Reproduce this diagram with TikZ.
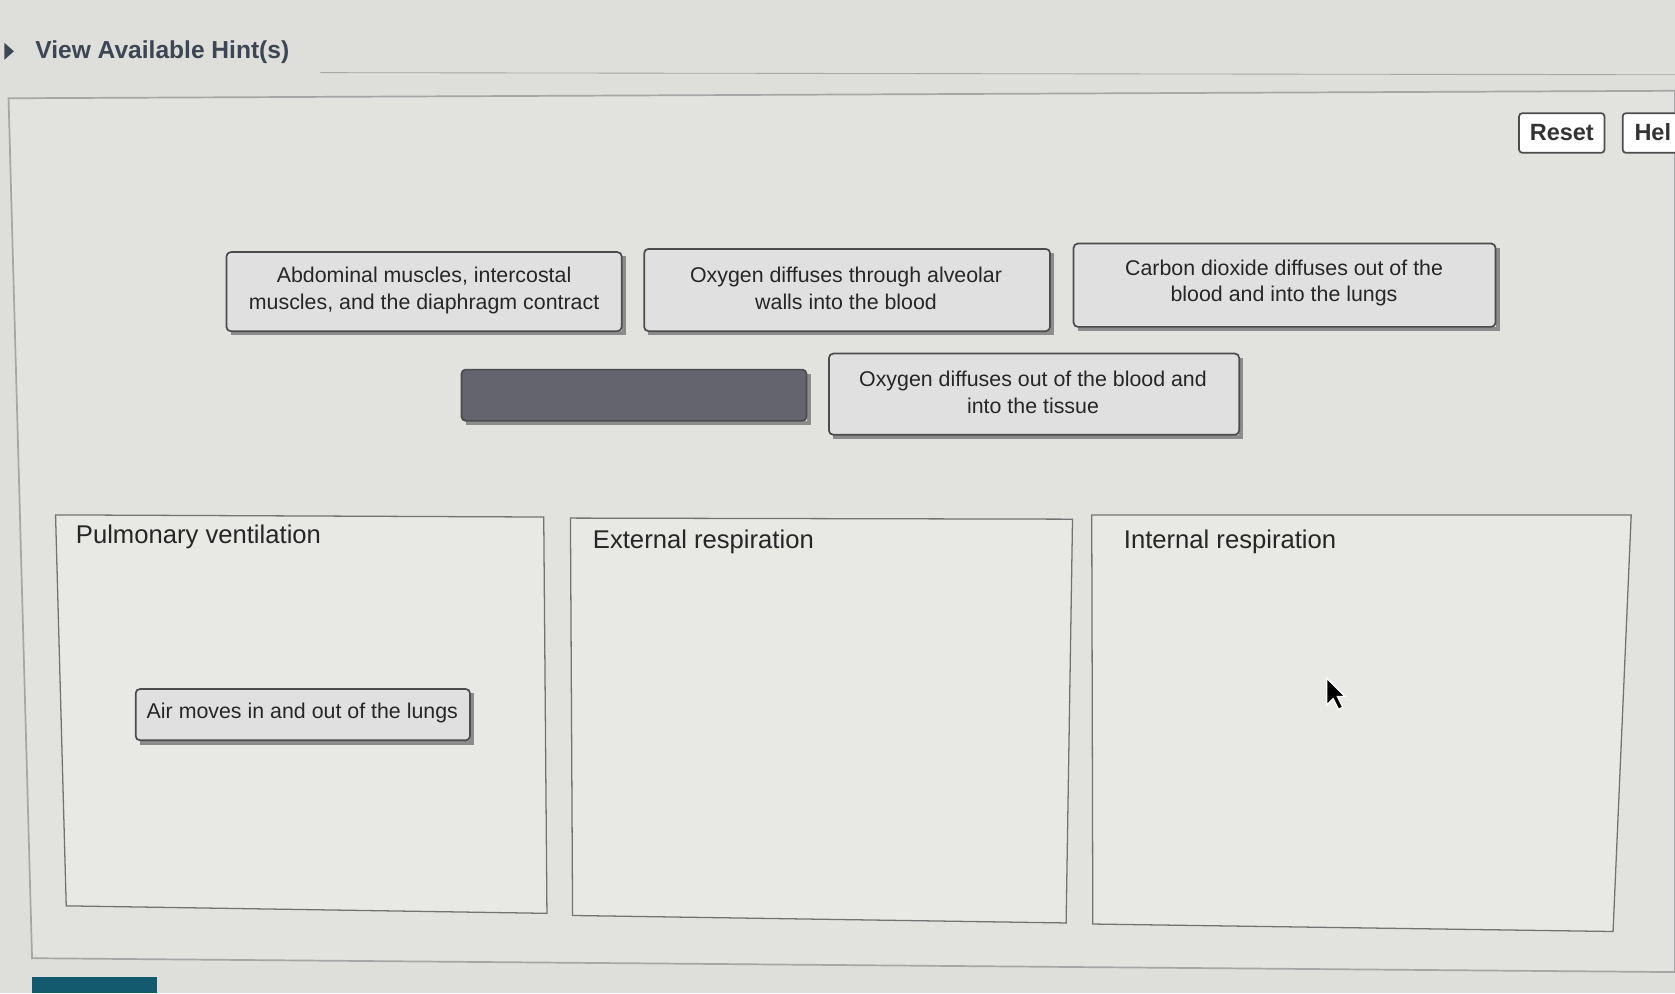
\documentclass[tikz,border=0pt]{standalone}
\usepackage{fontspec}
\setmainfont{Liberation Sans}
\definecolor{bgc}{RGB}{222,222,218}
\definecolor{panelc}{RGB}{226,226,222}
\definecolor{zonec}{RGB}{232,232,229}
\definecolor{hintc}{RGB}{60,70,85}
\definecolor{darkcard}{RGB}{100,100,110}
\definecolor{tealc}{RGB}{20,90,110}
\begin{document}
\begin{tikzpicture}[x=0.5pt,y=-0.5pt,
  card/.style={draw=black!70,line width=0.8pt,fill=black!12,rounded corners=2pt},
  cardtxt/.style={align=center,font=\fontsize{10}{12.5}\selectfont,text=black!85},
  zone/.style={draw=black!55,line width=0.6pt,fill=zonec},
  zonetxt/.style={anchor=west,font=\fontsize{12}{14}\selectfont,text=black!85},
  shadow/.style={black!45,line width=2pt},
  btn/.style={draw=black!70,line width=0.8pt,fill=white,rounded corners=1.5pt}]
\useasboundingbox[fill=bgc] (0,0) rectangle (1568,930);
% header
\fill[hintc] (4,40) -- (13,48) -- (4,56) -- cycle;
\node[anchor=west,font=\bfseries\fontsize{11.5}{13}\selectfont,text=hintc] (hint) at (26,49) {View Available Hint(s)};
\draw[black!35] (300,68) -- (1568,70);
% outer panel
\draw[black!35,line width=0.8pt,fill=panelc] (8,92) -- (1568,85) -- (1568,910) -- (30,897) -- cycle;
% buttons
\draw[btn] (1422,106) rectangle (1502,143);
\node[font=\bfseries\fontsize{11}{13}\selectfont,text=black!80] (reset) at (1462,124) {Reset};
\draw[btn] (1519,106) rectangle (1575,143);
\node[anchor=west,font=\bfseries\fontsize{11}{13}\selectfont,text=black!80] (help) at (1523,124) {Hel};
% cards
\draw[shadow] (216,312) -- (584,312) -- (584,240);
\draw[card] (212,236) rectangle (582,310);
\node[cardtxt] (c1) at (397,272) {Abdominal muscles, intercostal\\muscles, and the diaphragm contract};
\draw[shadow] (607,312) -- (985,312) -- (985,237);
\draw[card] (603,233) rectangle (983,310);
\node[cardtxt] (c2) at (792,270) {Oxygen diffuses through alveolar\\walls into the blood};
\draw[shadow] (1009,308) -- (1402,308) -- (1402,232);
\draw[card] (1005,228) rectangle (1400,306);
\node[cardtxt] (c3) at (1202,265) {Carbon dioxide diffuses out of the\\blood and into the lungs};
\draw[shadow] (436,396) -- (757,396) -- (757,350);
\draw[draw=black!70,line width=0.8pt,fill=darkcard,rounded corners=2pt] (432,346) rectangle (755,394);
\draw[shadow] (780,409) -- (1162,409) -- (1162,335);
\draw[card] (776,331) rectangle (1160,407);
\node[cardtxt] (c5) at (967,367) {Oxygen diffuses out of the blood and\\into the tissue};
% zones
\draw[zone] (52,482) -- (509,484) -- (512,855) -- (62,848) -- cycle;
\node[zonetxt] (z1) at (64,503) {Pulmonary ventilation};
\draw[zone] (534,485) -- (1004,486) -- (998,864) -- (536,857) -- cycle;
\node[zonetxt] (z2) at (548,507) {External respiration};
\draw[zone] (1022,482) -- (1527,482) -- (1510,872) -- (1023,865) -- cycle;
\node[zonetxt] (z3) at (1045,507) {Internal respiration};
\draw[shadow] (131,695) -- (442,695) -- (442,649);
\draw[card] (127,645) rectangle (440,693);
\node[cardtxt] (c6) at (283,667) {Air moves in and out of the lungs};
% cursor
\draw[fill=black,draw=white,line width=0.6pt] (1242,635) -- (1242,660) -- (1248,654) -- (1253,664) -- (1257,662) -- (1252,652) -- (1259,652) -- cycle;
% bottom bar
\fill[tealc] (30,915) rectangle (147,930);
\end{tikzpicture}
\end{document}
